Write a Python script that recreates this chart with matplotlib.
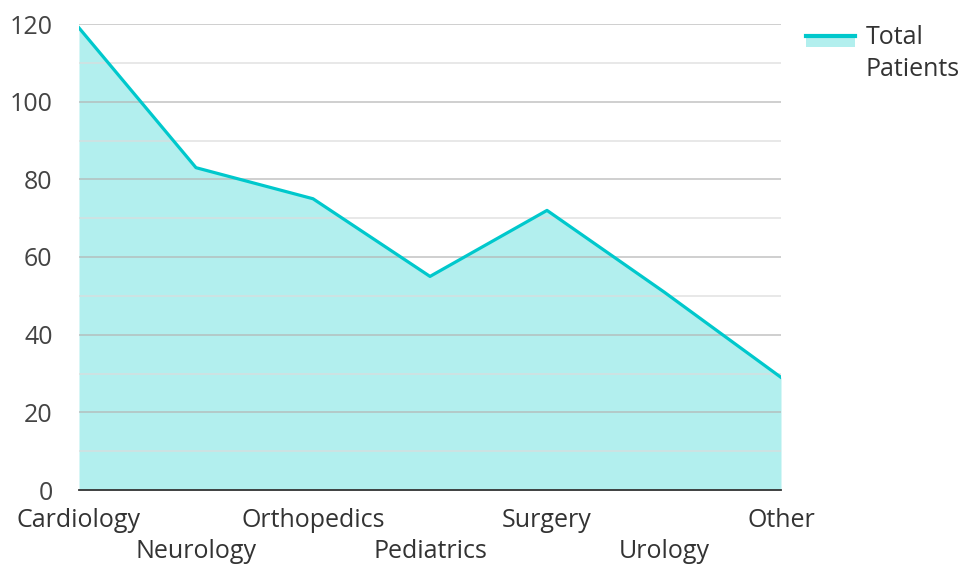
import numpy as np
import matplotlib.pyplot as plt
from matplotlib.patches import Rectangle
from matplotlib.lines import Line2D

plt.rcParams['font.family'] = ['Open Sans', 'DejaVu Sans']

kategorie = ["Cardiology", "Neurology", "Orthopedics", "Pediatrics", "Surgery", "Urology", "Other"]
pacienti = [119, 83, 75, 55, 72, 51, 29]
y_ticky = [0, 20, 40, 60, 80, 100, 120]

barva_cary = "#00c8cc"
barva_vyplne = "#b2efee"

W, H = 962, 564
fig = plt.figure(figsize=(W / 100, H / 100), dpi=100)
ax = fig.add_axes([79 / W, 1 - 490 / H, (781 - 79) / W, (490 - 24) / H])

x = np.arange(len(kategorie))
ax.fill_between(x, pacienti, 0, color=barva_vyplne, linewidth=0, zorder=2)
ax.plot(x, pacienti, color=barva_cary, linewidth=2.3, zorder=3)

ax.set_xlim(0, len(kategorie) - 1)
ax.set_ylim(0, 120)
ax.set_yticks(y_ticky)
# mrizka je nad vyplni (v originale je pres ni videt)
for h in y_ticky[1:]:
    ax.axhline(h, color="#b5b5b5", linewidth=1.3, alpha=0.7, zorder=2.5)
for h in np.arange(10, 120, 20):
    ax.axhline(h, color="#dcdcdc", linewidth=1.3, alpha=0.7, zorder=2.5)

popisky = [k if i % 2 == 0 else "\n" + k for i, k in enumerate(kategorie)]
ax.set_xticks(x)
ax.set_xticklabels(popisky, fontsize=18, color="#333333", linespacing=1.33)
ax.tick_params(axis="x", length=0, pad=13)
ax.tick_params(axis="y", length=0, pad=19, labelsize=18, labelcolor="#444444")

for s in ["top", "right", "left"]:
    ax.spines[s].set_visible(False)
ax.spines["bottom"].set_color("#333333")
ax.spines["bottom"].set_linewidth(1.3)
ax.spines["bottom"].set_zorder(4)

# legenda rucne
fig.patches.append(Rectangle((806 / W, 1 - 47 / H), 49 / W, 12 / H,
                             transform=fig.transFigure, facecolor=barva_vyplne,
                             edgecolor="none"))
fig.lines.append(Line2D([806 / W, 855 / W], [1 - 36 / H, 1 - 36 / H],
                        transform=fig.transFigure, color=barva_cary, linewidth=3))
fig.text(866 / W, 1 - 38 / H, "Total", fontsize=18, color="#333333", va="center")
fig.text(866 / W, 1 - 70 / H, "Patients", fontsize=18, color="#333333", va="center")

fig.savefig("out.png", dpi=100)
